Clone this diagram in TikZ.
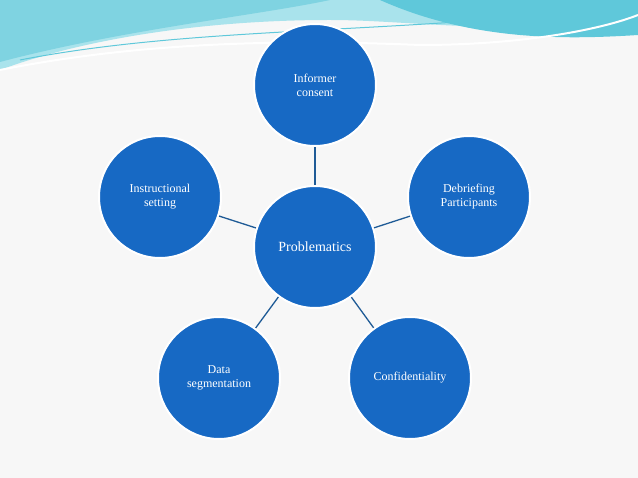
\documentclass[tikz,border=0pt]{standalone}
\usepackage{fontspec}
\setmainfont{Liberation Serif}
\begin{document}
\begin{tikzpicture}[x=1pt,y=-1pt,
  bub/.style={circle,fill=blubub,draw=white,line width=2pt,minimum size=122pt,text=white,align=center,font=\fontsize{12}{14}\selectfont},
  link/.style={draw=linkc,line width=1.3pt}]
\definecolor{blubub}{HTML}{1769C4}
\definecolor{linkc}{HTML}{1F5B96}
\definecolor{teal1}{HTML}{5FC8DA}
\definecolor{teal2}{HTML}{A9E3EC}
\useasboundingbox (0,0) rectangle (638,478);
\fill[gray!6] (0,0) rectangle (638,478);
% top waves
\fill[teal2] (0,0) -- (638,0) -- (638,10) .. controls (520,40) and (420,20) .. (330,20) .. controls (200,20) and (80,40) .. (0,70) -- cycle;
\fill[teal1!80] (0,0) -- (330,0) .. controls (260,15) and (120,30) .. (0,62) -- cycle;
\fill[teal1] (380,0) -- (638,0) -- (638,35) .. controls (560,40) and (470,40) .. (380,0) -- cycle;
\draw[white,line width=2pt] (0,70) .. controls (150,40) and (300,40) .. (420,45) .. controls (520,45) and (600,30) .. (638,15);
\draw[teal1,line width=1pt] (20,60) .. controls (200,25) and (400,35) .. (638,5);
\node[bub,font=\fontsize{14}{16}\selectfont] (c) at (315,247) {Problematics};
\node[bub] (t) at (315,85) {Informer\\consent};
\node[bub] (r) at (469,197) {Debriefing\\Participants};
\node[bub] (br) at (410,378) {Confidentiality};
\node[bub] (bl) at (219,378) {Data\\segmentation};
\node[bub] (l) at (160,197) {Instructional\\setting};
\foreach \n in {t,r,br,bl,l} \draw[link] (c) -- (\n);
\end{tikzpicture}
\end{document}
